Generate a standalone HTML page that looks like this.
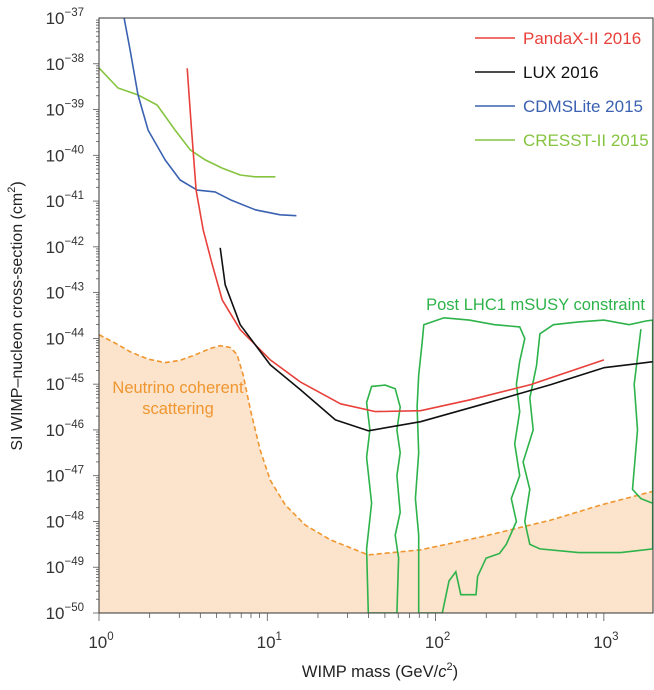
<!DOCTYPE html>
<html><head><meta charset="utf-8"><style>
body{margin:0;background:#fff;}
svg text{font-family:"Liberation Sans",sans-serif;}
</style></head><body>
<svg id="chart" width="654" height="685" viewBox="0 0 654 685" xmlns="http://www.w3.org/2000/svg">
<defs><clipPath id="pc"><rect x="99" y="18" width="554" height="595"/></clipPath></defs>
<g id="floor" clip-path="url(#pc)"></g>
<g id="series" clip-path="url(#pc)"></g>
<g id="axes"></g>
<text x="178" y="393" fill="#f0962f" font-size="16.5" text-anchor="middle">Neutrino coherent</text>
<text x="178" y="414" fill="#f0962f" font-size="16.5" text-anchor="middle">scattering</text>
<text x="645" y="310" fill="#2db34a" font-size="16.5" text-anchor="end">Post LHC1 mSUSY constraint</text>
<g id="legend"></g>
<text x="380" y="677" font-size="16.5" text-anchor="middle" fill="#222">WIMP mass (GeV/<tspan font-style="italic">c</tspan><tspan dy="-7" font-size="11">2</tspan><tspan dy="7">)</tspan></text>
<text transform="translate(22,316) rotate(-90)" font-size="16" text-anchor="middle" fill="#222">SI WIMP–nucleon cross-section (cm<tspan dy="-7" font-size="11">2</tspan><tspan dy="7">)</tspan></text>
</svg>
<script>
// log10(mass), log10(sigma)
const pandaxLogM=[0.524,0.548,0.577,0.619,0.673,0.732,0.839,1.018,1.196,1.435,1.643,1.911,2.208,2.565,3.0];
const pandaxLogS=[-38.1,-39.34,-40.76,-41.63,-42.39,-43.16,-43.81,-44.47,-44.95,-45.43,-45.6,-45.58,-45.34,-45.01,-44.47];
const luxLogM=[0.720,0.750,0.839,1.018,1.196,1.405,1.6,1.911,2.268,2.685,3.0,3.292];
const luxLogS=[-42.02,-42.83,-43.7,-44.58,-45.12,-45.78,-46.02,-45.82,-45.45,-45.01,-44.64,-44.51];
const cdmsLogM=[0.149,0.185,0.232,0.292,0.393,0.482,0.583,0.690,0.780,0.929,1.077,1.173];
const cdmsLogS=[-37.0,-37.7,-38.68,-39.45,-40.1,-40.54,-40.76,-40.8,-40.97,-41.19,-41.3,-41.32];
const cresstLogM=[0.0,0.113,0.232,0.345,0.452,0.542,0.631,0.732,0.839,0.929,1.048];
const cresstLogS=[-38.09,-38.53,-38.68,-38.9,-39.45,-39.88,-40.1,-40.28,-40.43,-40.47,-40.47];
const floorLogM=[0.0,0.095,0.185,0.290,0.393,0.480,0.571,0.660,0.720,0.780,0.820,0.857,0.900,0.958,1.018,1.107,1.226,1.375,1.6,1.911,2.268,2.685,2.982,3.292];
const floorLogS=[-43.92,-44.1,-44.29,-44.45,-44.53,-44.48,-44.36,-44.22,-44.16,-44.2,-44.35,-44.8,-45.57,-46.44,-47.1,-47.64,-48.08,-48.4,-48.73,-48.62,-48.34,-47.97,-47.64,-47.34];
const contourA=[[1.60,-50],[1.59,-48.6],[1.62,-47.6],[1.59,-46.6],[1.61,-46.0],[1.59,-45.4],[1.62,-45.05],[1.70,-45.02],[1.76,-45.1],[1.79,-45.5],[1.77,-46.0],[1.79,-46.5],[1.77,-47.0],[1.79,-47.8],[1.76,-48.3],[1.78,-48.8],[1.77,-50]];
const contourB=[[1.90,-50],[1.90,-48.3],[1.88,-47.5],[1.90,-46.5],[1.89,-45.5],[1.90,-44.8],[1.92,-44.1],[1.93,-43.7],[2.05,-43.55],[2.20,-43.6],[2.35,-43.7],[2.50,-43.75],[2.53,-44.0],[2.50,-44.5],[2.48,-45.0],[2.50,-45.6],[2.47,-46.3],[2.50,-47.0],[2.45,-47.5],[2.48,-48.0],[2.42,-48.5],[2.38,-48.7],[2.30,-48.8],[2.25,-49.2],[2.24,-49.6],[2.15,-49.6],[2.12,-49.1],[2.08,-49.3],[2.04,-50]];
const contourC=[[2.56,-48.5],[2.53,-48.0],[2.56,-47.3],[2.52,-46.7],[2.58,-46.0],[2.56,-45.3],[2.60,-44.6],[2.62,-43.9],[2.70,-43.7],[2.85,-43.64],[3.0,-43.6],[3.15,-43.7],[3.25,-43.62],[3.29,-43.6],[3.29,-48.6],[3.10,-48.68],[2.85,-48.68],[2.62,-48.6]];
const contourCInner=[[3.22,-43.8],[3.18,-45],[3.20,-46],[3.17,-47.3],[3.22,-47.5],[3.29,-47.6]];
const xTickExps=[0,1,2,3];
const yTickExps=[-37,-38,-39,-40,-41,-42,-43,-44,-45,-46,-47,-48,-49,-50];
const legendLabels=["PandaX-II 2016","LUX 2016","CDMSLite 2015","CRESST-II 2015"];
const legendColors=["#e8403a","#111111","#3a62b0","#86c440"];

const X0=99,X1=653,Y0=18,Y1=613,LXMIN=0,LXMAX=3.292,LYMAX=-37,LYMIN=-50;
const sx=l=>X0+(l-LXMIN)/(LXMAX-LXMIN)*(X1-X0);
const sy=l=>Y0+(LYMAX-l)/(LYMAX-LYMIN)*(Y1-Y0);
const NS="http://www.w3.org/2000/svg";
function mk(tag,parent,attrs){const e=document.createElementNS(NS,tag);for(const k in attrs)e.setAttribute(k,attrs[k]);document.getElementById(parent).appendChild(e);return e;}
function pts(lx,ly){return lx.map((v,i)=>sx(v).toFixed(1)+","+sy(ly[i]).toFixed(1)).join(" ");}
function ppts(arr){return arr.map(p=>sx(p[0]).toFixed(1)+","+sy(p[1]).toFixed(1)).join(" ");}

let fp=pts(floorLogM,floorLogS)+" "+sx(LXMAX)+","+Y1+" "+sx(0)+","+Y1;
let f=mk("polygon","floor",{points:fp,fill:"#fbe3cc",stroke:"none"});


let fl=mk("polyline","floor",{points:pts(floorLogM,floorLogS),fill:"none",stroke:"#f0962f","stroke-width":1.6,"stroke-dasharray":"5,3","stroke-linejoin":"round"});



[[contourA,"msusy-contour-a"],[contourB,"msusy-contour-b"],[contourC,"msusy-contour-c"]].forEach(c=>{
  const e=mk("polygon","series",{points:ppts(c[0]),fill:"none",stroke:"#2db34a","stroke-width":1.6});
  
  
});
let ci=mk("polyline","series",{points:ppts(contourCInner),fill:"none",stroke:"#2db34a","stroke-width":1.6});



[[cresstLogM,cresstLogS,"#86c440","cresst-line"],[cdmsLogM,cdmsLogS,"#3a62b0","cdmslite-line"],[pandaxLogM,pandaxLogS,"#e8403a","pandax-line"],[luxLogM,luxLogS,"#111111","lux-line"]].forEach(s=>{
  const e=mk("polyline","series",{points:pts(s[0],s[1]),fill:"none",stroke:s[2],"stroke-width":1.6,"stroke-linejoin":"round"});
  
  
});

let fr=mk("rect","axes",{x:X0,y:Y0,width:X1-X0,height:Y1-Y0,fill:"none",stroke:"#333","stroke-width":1});


for(let d=-50;d<-37;d++){for(let m=1;m<10;m++){const y=sy(d+Math.log10(m));const L=m===1?6:3;
  const t=mk("line","axes",{x1:X0-L,x2:X0,y1:y,y2:y,stroke:"#555","stroke-width":0.8});
  
  }}
yTickExps.forEach(e=>{const y=sy(e);
  const t=mk("text","axes",{x:84,y:y+6,"font-size":17,"text-anchor":"end",fill:"#333"});
  t.innerHTML='10<tspan dy="-8" font-size="11.5">−'+Math.abs(e)+'</tspan>';
  
  });
for(let d=0;d<4;d++){for(let m=1;m<10;m++){const lv=d+Math.log10(m);if(lv>LXMAX)continue;const x=sx(lv);const L=m===1?8:5;
  const t=mk("line","axes",{x1:x,x2:x,y1:Y1,y2:Y1+L,stroke:"#555","stroke-width":0.8});
  
  }}
xTickExps.forEach(e=>{const x=sx(e);
  const t=mk("text","axes",{x:x+2,y:648,"font-size":17,"text-anchor":"middle",fill:"#333"});
  t.innerHTML='10<tspan dy="-8" font-size="11.5">'+e+'</tspan>';
  
  });
legendLabels.forEach((lab,i)=>{const y=38+i*34;
  const l=mk("line","legend",{x1:475,x2:515,y1:y,y2:y,stroke:legendColors[i],"stroke-width":1.6});
  
  
  const t=mk("text","legend",{x:523,y:y+6,"font-size":17,fill:legendColors[i]});
  t.textContent=lab;
  
  });
</script>
</body></html>
